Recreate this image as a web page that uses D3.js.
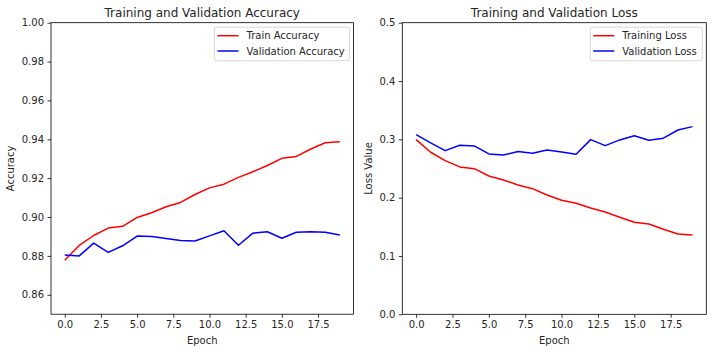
<!DOCTYPE html>
<html>
<head>
<meta charset="utf-8">
<script src="https://cdn.jsdelivr.net/npm/d3@7"></script>
<style>
  body { margin: 0; background: #fff; }
  text { font-family: "DejaVu Sans", sans-serif; fill: #262626; }
</style>
</head>
<body>
<div class="canvas"></div>
<script>
// epochs and values
const epochs = d3.range(20);

const trainAcc = [0.8778, 0.8854, 0.8905, 0.8943, 0.8952, 0.8998, 0.9022, 0.9053, 0.9075, 0.9116,
  0.9150, 0.9169, 0.9204, 0.9233, 0.9265, 0.9302, 0.9312, 0.9350, 0.9382, 0.9387];
const valAcc = [0.8804, 0.8800, 0.8866, 0.8818, 0.8852, 0.8902, 0.8900, 0.8890, 0.8879, 0.8877,
  0.8903, 0.8929, 0.8855, 0.8917, 0.8924, 0.8891, 0.8922, 0.8924, 0.8922, 0.8907];

const trainLoss = [0.2995, 0.2779, 0.2635, 0.2527, 0.2497, 0.2372, 0.2304, 0.2218, 0.2154, 0.2046,
  0.1955, 0.1904, 0.1823, 0.1755, 0.1664, 0.1578, 0.1549, 0.1458, 0.1377, 0.1360];
const valLoss = [0.3080, 0.2940, 0.2806, 0.2899, 0.2887, 0.2750, 0.2732, 0.2790, 0.2762, 0.2818,
  0.2784, 0.2744, 0.2995, 0.2892, 0.2990, 0.3063, 0.2985, 0.3020, 0.3160, 0.3218];

const xTicks = [0, 2.5, 5, 7.5, 10, 12.5, 15, 17.5];
const accTicks = [0.86, 0.88, 0.90, 0.92, 0.94, 0.96, 0.98, 1.00];
const lossTicks = [0.0, 0.1, 0.2, 0.3, 0.4, 0.5];

const svg = d3.select('.canvas')
  .append('svg')
    .attr('width', 712)
    .attr('height', 352);

function panel(opts) {
  const { left, right, top, bottom } = opts;

  const x = d3.scaleLinear().domain([-0.95, 19.95]).range([left, right]);
  const y = d3.scaleLinear().domain(opts.yDomain).range([bottom, top]);

  const g = svg.append('g');

  const xAxis = d3.axisBottom(x)
    .tickValues(xTicks)
    .tickSize(3.5)
    .tickPadding(3.5)
    .tickFormat(d3.format('.1f'));
  const yAxis = d3.axisLeft(y)
    .tickValues(opts.yTicks)
    .tickSize(3.5)
    .tickPadding(3.5)
    .tickFormat(d3.format(opts.yFormat));

  const xg = g.append('g').attr('transform', `translate(0, ${bottom})`).call(xAxis);
  const yg = g.append('g').attr('transform', `translate(${left}, 0)`).call(yAxis);
  [xg, yg].forEach(a => {
    a.select('.domain').remove();
    a.selectAll('line').attr('stroke', '#000').attr('stroke-width', 0.8);
    a.selectAll('text').attr('font-size', 10).attr('fill', '#262626')
      .attr('font-family', '"DejaVu Sans", sans-serif');
  });

  const line = d3.line()
    .x((d, i) => x(epochs[i]))
    .y(d => y(d));

  opts.series.forEach(s => {
    g.append('path')
      .datum(s.values)
      .attr('fill', 'none')
      .attr('stroke', s.color)
      .attr('stroke-width', 1.5)
      .attr('stroke-linejoin', 'round')
      .attr('d', line);
  });

  // frame
  g.append('rect')
    .attr('x', left).attr('y', top)
    .attr('width', right - left).attr('height', bottom - top)
    .attr('fill', 'none').attr('stroke', '#000').attr('stroke-width', 0.8);

  // title and labels
  g.append('text')
    .attr('x', (left + right) / 2).attr('y', top - 6)
    .attr('text-anchor', 'middle').attr('font-size', 12)
    .text(opts.title);
  g.append('text')
    .attr('x', (left + right) / 2).attr('y', 344)
    .attr('text-anchor', 'middle').attr('font-size', 10)
    .text('Epoch');
  g.append('text')
    .attr('transform', `translate(${opts.yLabelX}, ${(top + bottom) / 2}) rotate(-90)`)
    .attr('text-anchor', 'middle').attr('font-size', 10)
    .text(opts.yLabel);

  // legend
  const lw = opts.legendWidth;
  const lg = g.append('g').attr('transform', `translate(${right - 4 - lw}, ${top + 4.5})`);
  lg.append('rect')
    .attr('width', lw).attr('height', 33.5).attr('rx', 2)
    .attr('fill', '#fff').attr('fill-opacity', 0.8)
    .attr('stroke', '#ccc').attr('stroke-width', 0.8);
  opts.series.forEach((s, i) => {
    const cy = 8.5 + i * 15.3;
    lg.append('line')
      .attr('x1', 3).attr('x2', 24).attr('y1', cy).attr('y2', cy)
      .attr('stroke', s.color).attr('stroke-width', 1.5);
    lg.append('text')
      .attr('x', 32).attr('y', cy + 3.6)
      .attr('font-size', 10)
      .text(s.name);
  });
}

panel({
  left: 51, right: 353.5, top: 22.7, bottom: 314.2,
  yDomain: [0.85, 1.0], yTicks: accTicks, yFormat: '.2f',
  title: 'Training and Validation Accuracy', yLabel: 'Accuracy', yLabelX: 14,
  legendWidth: 135,
  series: [
    { name: 'Train Accuracy', values: trainAcc, color: '#ff0000' },
    { name: 'Validation Accuracy', values: valAcc, color: '#0000ff' }
  ]
});

panel({
  left: 402.3, right: 706.3, top: 22.7, bottom: 314.3,
  yDomain: [0, 0.5], yTicks: lossTicks, yFormat: '.1f',
  title: 'Training and Validation Loss', yLabel: 'Loss Value', yLabelX: 372,
  legendWidth: 112,
  series: [
    { name: 'Training Loss', values: trainLoss, color: '#ff0000' },
    { name: 'Validation Loss', values: valLoss, color: '#0000ff' }
  ]
});
</script>
</body>
</html>
